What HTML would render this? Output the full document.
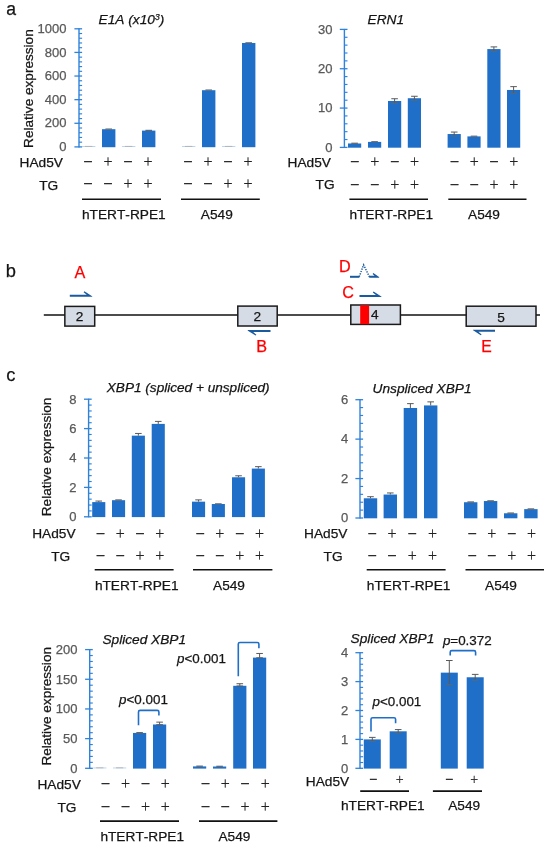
<!DOCTYPE html>
<html><head><meta charset="utf-8"><title>Figure</title>
<style>
html,body{margin:0;padding:0;background:#fff;}
svg{display:block;font-family:"Liberation Sans",Arial,sans-serif;font-kerning:none;}
</style></head>
<body>
<svg width="550" height="851" viewBox="0 0 550 851">
<rect width="550" height="851" fill="#ffffff"/>
<text x="6.30" y="15.30" font-size="17.6" fill="#151515" stroke="#151515" stroke-width="0.25" text-anchor="start" >a</text>
<text x="5.80" y="276.70" font-size="18.3" fill="#151515" stroke="#151515" stroke-width="0.25" text-anchor="start" >b</text>
<text x="6.20" y="381.20" font-size="18.3" fill="#151515" stroke="#151515" stroke-width="0.25" text-anchor="start" >c</text>
<line x1="79.00" y1="28.30" x2="79.00" y2="147.40" stroke="#2F82DA" stroke-width="1.4" />
<line x1="74.40" y1="146.90" x2="82.10" y2="146.90" stroke="#2F82DA" stroke-width="1.3" />
<text x="66.40" y="151.10" font-size="13" fill="#595959" stroke="#595959" stroke-width="0.25" text-anchor="end" >0</text>
<line x1="79.00" y1="142.18" x2="82.10" y2="142.18" stroke="#2F82DA" stroke-width="1.15" />
<line x1="79.00" y1="137.45" x2="82.10" y2="137.45" stroke="#2F82DA" stroke-width="1.15" />
<line x1="79.00" y1="132.73" x2="82.10" y2="132.73" stroke="#2F82DA" stroke-width="1.15" />
<line x1="79.00" y1="128.00" x2="82.10" y2="128.00" stroke="#2F82DA" stroke-width="1.15" />
<line x1="74.40" y1="123.28" x2="82.10" y2="123.28" stroke="#2F82DA" stroke-width="1.3" />
<text x="66.40" y="127.48" font-size="13" fill="#595959" stroke="#595959" stroke-width="0.25" text-anchor="end" >200</text>
<line x1="79.00" y1="118.56" x2="82.10" y2="118.56" stroke="#2F82DA" stroke-width="1.15" />
<line x1="79.00" y1="113.83" x2="82.10" y2="113.83" stroke="#2F82DA" stroke-width="1.15" />
<line x1="79.00" y1="109.11" x2="82.10" y2="109.11" stroke="#2F82DA" stroke-width="1.15" />
<line x1="79.00" y1="104.38" x2="82.10" y2="104.38" stroke="#2F82DA" stroke-width="1.15" />
<line x1="74.40" y1="99.66" x2="82.10" y2="99.66" stroke="#2F82DA" stroke-width="1.3" />
<text x="66.40" y="103.86" font-size="13" fill="#595959" stroke="#595959" stroke-width="0.25" text-anchor="end" >400</text>
<line x1="79.00" y1="94.94" x2="82.10" y2="94.94" stroke="#2F82DA" stroke-width="1.15" />
<line x1="79.00" y1="90.21" x2="82.10" y2="90.21" stroke="#2F82DA" stroke-width="1.15" />
<line x1="79.00" y1="85.49" x2="82.10" y2="85.49" stroke="#2F82DA" stroke-width="1.15" />
<line x1="79.00" y1="80.76" x2="82.10" y2="80.76" stroke="#2F82DA" stroke-width="1.15" />
<line x1="74.40" y1="76.04" x2="82.10" y2="76.04" stroke="#2F82DA" stroke-width="1.3" />
<text x="66.40" y="80.24" font-size="13" fill="#595959" stroke="#595959" stroke-width="0.25" text-anchor="end" >600</text>
<line x1="79.00" y1="71.32" x2="82.10" y2="71.32" stroke="#2F82DA" stroke-width="1.15" />
<line x1="79.00" y1="66.59" x2="82.10" y2="66.59" stroke="#2F82DA" stroke-width="1.15" />
<line x1="79.00" y1="61.87" x2="82.10" y2="61.87" stroke="#2F82DA" stroke-width="1.15" />
<line x1="79.00" y1="57.14" x2="82.10" y2="57.14" stroke="#2F82DA" stroke-width="1.15" />
<line x1="74.40" y1="52.42" x2="82.10" y2="52.42" stroke="#2F82DA" stroke-width="1.3" />
<text x="66.40" y="56.62" font-size="13" fill="#595959" stroke="#595959" stroke-width="0.25" text-anchor="end" >800</text>
<line x1="79.00" y1="47.70" x2="82.10" y2="47.70" stroke="#2F82DA" stroke-width="1.15" />
<line x1="79.00" y1="42.97" x2="82.10" y2="42.97" stroke="#2F82DA" stroke-width="1.15" />
<line x1="79.00" y1="38.25" x2="82.10" y2="38.25" stroke="#2F82DA" stroke-width="1.15" />
<line x1="79.00" y1="33.52" x2="82.10" y2="33.52" stroke="#2F82DA" stroke-width="1.15" />
<line x1="74.40" y1="28.80" x2="82.10" y2="28.80" stroke="#2F82DA" stroke-width="1.3" />
<text x="66.40" y="33.00" font-size="13" fill="#595959" stroke="#595959" stroke-width="0.25" text-anchor="end" >1000</text>
<rect x="82.00" y="146.10" width="13.40" height="0.90" fill="#B5D2F0" />
<line x1="85.00" y1="146.40" x2="92.40" y2="146.40" stroke="#a8a8a8" stroke-width="0.7" />
<rect x="102.00" y="129.19" width="13.40" height="18.02" fill="#1F6FC9" />
<line x1="105.40" y1="128.99" x2="112.00" y2="128.99" stroke="#666" stroke-width="1.04172" />
<rect x="122.00" y="146.10" width="13.40" height="0.90" fill="#B5D2F0" />
<line x1="125.00" y1="146.40" x2="132.40" y2="146.40" stroke="#a8a8a8" stroke-width="0.7" />
<rect x="142.00" y="130.60" width="13.40" height="16.60" fill="#1F6FC9" />
<line x1="145.40" y1="130.40" x2="152.00" y2="130.40" stroke="#666" stroke-width="1.2543" />
<rect x="182.00" y="146.10" width="13.40" height="0.90" fill="#B5D2F0" />
<line x1="185.00" y1="146.40" x2="192.40" y2="146.40" stroke="#a8a8a8" stroke-width="0.7" />
<rect x="202.00" y="90.21" width="13.40" height="56.99" fill="#1F6FC9" />
<line x1="205.40" y1="90.01" x2="212.00" y2="90.01" stroke="#666" stroke-width="1.1125800000000001" />
<rect x="222.00" y="146.10" width="13.40" height="0.90" fill="#B5D2F0" />
<line x1="225.00" y1="146.40" x2="232.40" y2="146.40" stroke="#a8a8a8" stroke-width="0.7" />
<rect x="242.00" y="42.97" width="13.40" height="104.23" fill="#1F6FC9" />
<line x1="245.40" y1="42.77" x2="252.00" y2="42.77" stroke="#666" stroke-width="1.1125800000000001" />
<text transform="translate(32.70,88.60) rotate(-90)" font-size="13.6" fill="#151515" stroke="#151515" stroke-width="0.25" text-anchor="middle">Relative expression</text>
<text x="98.6" y="24.0" font-size="13.7" fill="#151515" stroke="#151515" stroke-width="0.25" font-style="italic">E1A (x10<tspan font-size="8.5" dy="-4.5">3</tspan><tspan dy="4.5">)</tspan></text>
<text x="19.50" y="167.40" font-size="13.7" fill="#151515" stroke="#151515" stroke-width="0.25" text-anchor="start" >HAd5V</text>
<text x="39.20" y="189.80" font-size="13.7" fill="#151515" stroke="#151515" stroke-width="0.25" text-anchor="start" >TG</text>
<text x="87.90" y="167.20" font-size="16" fill="#222" stroke="#222" stroke-width="0.4" font-family="Liberation Serif" text-anchor="middle">−</text>
<text x="107.90" y="167.20" font-size="16" fill="#222" stroke="#222" stroke-width="0.15" font-family="Liberation Serif" text-anchor="middle">+</text>
<text x="127.90" y="167.20" font-size="16" fill="#222" stroke="#222" stroke-width="0.4" font-family="Liberation Serif" text-anchor="middle">−</text>
<text x="147.90" y="167.20" font-size="16" fill="#222" stroke="#222" stroke-width="0.15" font-family="Liberation Serif" text-anchor="middle">+</text>
<text x="187.90" y="167.20" font-size="16" fill="#222" stroke="#222" stroke-width="0.4" font-family="Liberation Serif" text-anchor="middle">−</text>
<text x="207.90" y="167.20" font-size="16" fill="#222" stroke="#222" stroke-width="0.15" font-family="Liberation Serif" text-anchor="middle">+</text>
<text x="227.90" y="167.20" font-size="16" fill="#222" stroke="#222" stroke-width="0.4" font-family="Liberation Serif" text-anchor="middle">−</text>
<text x="247.90" y="167.20" font-size="16" fill="#222" stroke="#222" stroke-width="0.15" font-family="Liberation Serif" text-anchor="middle">+</text>
<text x="87.90" y="189.30" font-size="16" fill="#222" stroke="#222" stroke-width="0.4" font-family="Liberation Serif" text-anchor="middle">−</text>
<text x="107.90" y="189.30" font-size="16" fill="#222" stroke="#222" stroke-width="0.4" font-family="Liberation Serif" text-anchor="middle">−</text>
<text x="127.90" y="189.30" font-size="16" fill="#222" stroke="#222" stroke-width="0.15" font-family="Liberation Serif" text-anchor="middle">+</text>
<text x="147.90" y="189.30" font-size="16" fill="#222" stroke="#222" stroke-width="0.15" font-family="Liberation Serif" text-anchor="middle">+</text>
<text x="187.90" y="189.30" font-size="16" fill="#222" stroke="#222" stroke-width="0.4" font-family="Liberation Serif" text-anchor="middle">−</text>
<text x="207.90" y="189.30" font-size="16" fill="#222" stroke="#222" stroke-width="0.4" font-family="Liberation Serif" text-anchor="middle">−</text>
<text x="227.90" y="189.30" font-size="16" fill="#222" stroke="#222" stroke-width="0.15" font-family="Liberation Serif" text-anchor="middle">+</text>
<text x="247.90" y="189.30" font-size="16" fill="#222" stroke="#222" stroke-width="0.15" font-family="Liberation Serif" text-anchor="middle">+</text>
<line x1="82.00" y1="199.20" x2="161.00" y2="199.20" stroke="#111" stroke-width="1.6" />
<line x1="181.00" y1="199.20" x2="259.80" y2="199.20" stroke="#111" stroke-width="1.6" />
<text x="82.00" y="219.40" font-size="13.7" fill="#151515" stroke="#151515" stroke-width="0.25" text-anchor="start" >hTERT-RPE1</text>
<text x="200.80" y="219.40" font-size="13.7" fill="#151515" stroke="#151515" stroke-width="0.25" text-anchor="start" >A549</text>
<line x1="344.40" y1="28.90" x2="344.40" y2="147.90" stroke="#2F82DA" stroke-width="1.4" />
<line x1="339.80" y1="147.40" x2="347.50" y2="147.40" stroke="#2F82DA" stroke-width="1.3" />
<text x="332.40" y="151.75" font-size="13" fill="#595959" stroke="#595959" stroke-width="0.25" text-anchor="end" >0</text>
<line x1="344.40" y1="139.53" x2="347.50" y2="139.53" stroke="#2F82DA" stroke-width="1.15" />
<line x1="344.40" y1="131.67" x2="347.50" y2="131.67" stroke="#2F82DA" stroke-width="1.15" />
<line x1="344.40" y1="123.80" x2="347.50" y2="123.80" stroke="#2F82DA" stroke-width="1.15" />
<line x1="344.40" y1="115.93" x2="347.50" y2="115.93" stroke="#2F82DA" stroke-width="1.15" />
<line x1="339.80" y1="108.07" x2="347.50" y2="108.07" stroke="#2F82DA" stroke-width="1.3" />
<text x="332.40" y="112.42" font-size="13" fill="#595959" stroke="#595959" stroke-width="0.25" text-anchor="end" >10</text>
<line x1="344.40" y1="100.20" x2="347.50" y2="100.20" stroke="#2F82DA" stroke-width="1.15" />
<line x1="344.40" y1="92.33" x2="347.50" y2="92.33" stroke="#2F82DA" stroke-width="1.15" />
<line x1="344.40" y1="84.47" x2="347.50" y2="84.47" stroke="#2F82DA" stroke-width="1.15" />
<line x1="344.40" y1="76.60" x2="347.50" y2="76.60" stroke="#2F82DA" stroke-width="1.15" />
<line x1="339.80" y1="68.73" x2="347.50" y2="68.73" stroke="#2F82DA" stroke-width="1.3" />
<text x="332.40" y="73.08" font-size="13" fill="#595959" stroke="#595959" stroke-width="0.25" text-anchor="end" >20</text>
<line x1="344.40" y1="60.87" x2="347.50" y2="60.87" stroke="#2F82DA" stroke-width="1.15" />
<line x1="344.40" y1="53.00" x2="347.50" y2="53.00" stroke="#2F82DA" stroke-width="1.15" />
<line x1="344.40" y1="45.13" x2="347.50" y2="45.13" stroke="#2F82DA" stroke-width="1.15" />
<line x1="344.40" y1="37.27" x2="347.50" y2="37.27" stroke="#2F82DA" stroke-width="1.15" />
<line x1="339.80" y1="29.40" x2="347.50" y2="29.40" stroke="#2F82DA" stroke-width="1.3" />
<text x="332.40" y="33.75" font-size="13" fill="#595959" stroke="#595959" stroke-width="0.25" text-anchor="end" >30</text>
<rect x="348.00" y="143.47" width="13.20" height="4.23" fill="#1F6FC9" />
<line x1="351.30" y1="143.27" x2="357.90" y2="143.27" stroke="#666" stroke-width="1.254" />
<rect x="368.00" y="141.89" width="13.20" height="5.81" fill="#1F6FC9" />
<line x1="371.30" y1="141.69" x2="377.90" y2="141.69" stroke="#666" stroke-width="1.1832" />
<rect x="388.00" y="100.99" width="13.20" height="46.71" fill="#1F6FC9" />
<line x1="394.60" y1="98.74" x2="394.60" y2="103.23" stroke="#595959" stroke-width="1.0" />
<line x1="391.30" y1="98.74" x2="397.90" y2="98.74" stroke="#595959" stroke-width="1.0" />
<line x1="391.30" y1="103.23" x2="397.90" y2="103.23" stroke="#5f6870" stroke-width="1.0" />
<rect x="407.80" y="98.23" width="13.20" height="49.47" fill="#1F6FC9" />
<line x1="414.40" y1="96.27" x2="414.40" y2="100.20" stroke="#595959" stroke-width="1.0" />
<line x1="411.10" y1="96.27" x2="417.70" y2="96.27" stroke="#595959" stroke-width="1.0" />
<line x1="411.10" y1="100.20" x2="417.70" y2="100.20" stroke="#5f6870" stroke-width="1.0" />
<rect x="447.60" y="134.03" width="13.20" height="13.67" fill="#1F6FC9" />
<line x1="454.20" y1="132.06" x2="454.20" y2="135.99" stroke="#595959" stroke-width="1.0" />
<line x1="450.90" y1="132.06" x2="457.50" y2="132.06" stroke="#595959" stroke-width="1.0" />
<line x1="450.90" y1="135.99" x2="457.50" y2="135.99" stroke="#5f6870" stroke-width="1.0" />
<rect x="467.40" y="136.39" width="13.20" height="11.31" fill="#1F6FC9" />
<line x1="470.70" y1="136.19" x2="477.30" y2="136.19" stroke="#666" stroke-width="1.1832" />
<rect x="487.30" y="49.07" width="13.20" height="98.63" fill="#1F6FC9" />
<line x1="493.90" y1="46.90" x2="493.90" y2="51.23" stroke="#595959" stroke-width="1.0" />
<line x1="490.60" y1="46.90" x2="497.20" y2="46.90" stroke="#595959" stroke-width="1.0" />
<line x1="490.60" y1="51.23" x2="497.20" y2="51.23" stroke="#5f6870" stroke-width="1.0" />
<rect x="507.00" y="89.97" width="13.20" height="57.73" fill="#1F6FC9" />
<line x1="513.60" y1="86.63" x2="513.60" y2="93.32" stroke="#595959" stroke-width="1.0" />
<line x1="510.30" y1="86.63" x2="516.90" y2="86.63" stroke="#595959" stroke-width="1.0" />
<line x1="510.30" y1="93.32" x2="516.90" y2="93.32" stroke="#5f6870" stroke-width="1.0" />
<text x="367.60" y="23.70" font-size="13.7" fill="#151515" stroke="#151515" stroke-width="0.25" text-anchor="start" font-style="italic" >ERN1</text>
<text x="287.60" y="167.30" font-size="13.7" fill="#151515" stroke="#151515" stroke-width="0.25" text-anchor="start" >HAd5V</text>
<text x="315.60" y="189.00" font-size="13.7" fill="#151515" stroke="#151515" stroke-width="0.25" text-anchor="start" >TG</text>
<text x="354.80" y="167.00" font-size="16" fill="#222" stroke="#222" stroke-width="0.4" font-family="Liberation Serif" text-anchor="middle">−</text>
<text x="374.80" y="167.00" font-size="16" fill="#222" stroke="#222" stroke-width="0.15" font-family="Liberation Serif" text-anchor="middle">+</text>
<text x="394.80" y="167.00" font-size="16" fill="#222" stroke="#222" stroke-width="0.4" font-family="Liberation Serif" text-anchor="middle">−</text>
<text x="414.60" y="167.00" font-size="16" fill="#222" stroke="#222" stroke-width="0.15" font-family="Liberation Serif" text-anchor="middle">+</text>
<text x="454.40" y="167.00" font-size="16" fill="#222" stroke="#222" stroke-width="0.4" font-family="Liberation Serif" text-anchor="middle">−</text>
<text x="474.20" y="167.00" font-size="16" fill="#222" stroke="#222" stroke-width="0.15" font-family="Liberation Serif" text-anchor="middle">+</text>
<text x="494.10" y="167.00" font-size="16" fill="#222" stroke="#222" stroke-width="0.4" font-family="Liberation Serif" text-anchor="middle">−</text>
<text x="513.80" y="167.00" font-size="16" fill="#222" stroke="#222" stroke-width="0.15" font-family="Liberation Serif" text-anchor="middle">+</text>
<text x="354.80" y="189.50" font-size="16" fill="#222" stroke="#222" stroke-width="0.4" font-family="Liberation Serif" text-anchor="middle">−</text>
<text x="374.80" y="189.50" font-size="16" fill="#222" stroke="#222" stroke-width="0.4" font-family="Liberation Serif" text-anchor="middle">−</text>
<text x="394.80" y="189.50" font-size="16" fill="#222" stroke="#222" stroke-width="0.15" font-family="Liberation Serif" text-anchor="middle">+</text>
<text x="414.60" y="189.50" font-size="16" fill="#222" stroke="#222" stroke-width="0.15" font-family="Liberation Serif" text-anchor="middle">+</text>
<text x="454.40" y="189.50" font-size="16" fill="#222" stroke="#222" stroke-width="0.4" font-family="Liberation Serif" text-anchor="middle">−</text>
<text x="474.20" y="189.50" font-size="16" fill="#222" stroke="#222" stroke-width="0.4" font-family="Liberation Serif" text-anchor="middle">−</text>
<text x="494.10" y="189.50" font-size="16" fill="#222" stroke="#222" stroke-width="0.15" font-family="Liberation Serif" text-anchor="middle">+</text>
<text x="513.80" y="189.50" font-size="16" fill="#222" stroke="#222" stroke-width="0.15" font-family="Liberation Serif" text-anchor="middle">+</text>
<line x1="349.40" y1="199.20" x2="428.00" y2="199.20" stroke="#111" stroke-width="1.6" />
<line x1="448.30" y1="199.20" x2="526.50" y2="199.20" stroke="#111" stroke-width="1.6" />
<text x="349.40" y="219.40" font-size="13.7" fill="#151515" stroke="#151515" stroke-width="0.25" text-anchor="start" >hTERT-RPE1</text>
<text x="468.00" y="219.40" font-size="13.7" fill="#151515" stroke="#151515" stroke-width="0.25" text-anchor="start" >A549</text>
<line x1="43.80" y1="314.90" x2="540.00" y2="314.90" stroke="#111" stroke-width="1.5" />
<rect x="64.85" y="306.40" width="29.85" height="19.70" fill="#D6DCE5" stroke="#1a1a1a" stroke-width="1.5"/>
<text x="79.50" y="321.30" font-size="13.7" fill="#151515" stroke="#151515" stroke-width="0.25" text-anchor="middle" >2</text>
<rect x="237.80" y="306.10" width="39.40" height="19.90" fill="#D6DCE5" stroke="#1a1a1a" stroke-width="1.5"/>
<text x="257.20" y="321.20" font-size="13.7" fill="#151515" stroke="#151515" stroke-width="0.25" text-anchor="middle" >2</text>
<rect x="350.80" y="305.00" width="49.60" height="19.40" fill="#D6DCE5" stroke="#1a1a1a" stroke-width="1.5"/>
<text x="374.70" y="319.30" font-size="13.7" fill="#151515" stroke="#151515" stroke-width="0.25" text-anchor="middle" >4</text>
<rect x="360.20" y="305.30" width="8.90" height="18.90" fill="#FF0000" />
<rect x="466.20" y="306.20" width="69.80" height="20.00" fill="#D6DCE5" stroke="#1a1a1a" stroke-width="1.5"/>
<text x="501.00" y="321.50" font-size="13.7" fill="#151515" stroke="#151515" stroke-width="0.25" text-anchor="middle" >5</text>
<path d="M69.80,294.80 H86.80 L83.60,292.20 L84.40,291.30 L92.50,296.50 L91.90,296.80 H69.80 Z" fill="#1A5A9E"/>
<path d="M270.50,332.10 H253.20 L256.40,334.70 L255.60,335.60 L247.50,330.40 L248.10,330.10 H270.50 Z" fill="#1A5A9E"/>
<path d="M359.50,295.10 H376.00 L372.80,292.50 L373.60,291.60 L381.70,296.80 L381.10,297.10 H359.50 Z" fill="#1A5A9E"/>
<path d="M495.00,331.80 H478.40 L481.60,334.40 L480.80,335.30 L472.70,330.10 L473.30,329.80 H495.00 Z" fill="#1A5A9E"/>
<path d="M350,275.8 H359.4 V277.8 H350 Z" fill="#1A5A9E"/>
<path d="M359.2,276.8 L363.6,264.8 L369.4,276.8" fill="none" stroke="#1A5A9E" stroke-width="1.5" stroke-dasharray="1.3,1.2"/>
<path d="M369.2,275.8 H374.6 L372.6,273.9 L373.4,273.0 L379.4,277.3 L378.8,277.8 H369.2 Z" fill="#1A5A9E"/>
<text x="79.90" y="277.50" font-size="16.2" fill="#FF0000" stroke="#FF0000" stroke-width="0.25" text-anchor="middle" >A</text>
<text x="261.60" y="352.40" font-size="16.2" fill="#FF0000" stroke="#FF0000" stroke-width="0.25" text-anchor="middle" >B</text>
<text x="348.20" y="298.30" font-size="16.2" fill="#FF0000" stroke="#FF0000" stroke-width="0.25" text-anchor="middle" >C</text>
<text x="344.80" y="271.50" font-size="16.2" fill="#FF0000" stroke="#FF0000" stroke-width="0.25" text-anchor="middle" >D</text>
<text x="486.60" y="352.00" font-size="15.7" fill="#FF0000" stroke="#FF0000" stroke-width="0.25" text-anchor="middle" >E</text>
<line x1="88.60" y1="398.70" x2="88.60" y2="517.30" stroke="#2F82DA" stroke-width="1.4" />
<line x1="84.00" y1="516.80" x2="91.70" y2="516.80" stroke="#2F82DA" stroke-width="1.3" />
<text x="76.40" y="521.15" font-size="13" fill="#595959" stroke="#595959" stroke-width="0.25" text-anchor="end" >0</text>
<line x1="88.60" y1="510.92" x2="91.70" y2="510.92" stroke="#2F82DA" stroke-width="1.15" />
<line x1="88.60" y1="505.04" x2="91.70" y2="505.04" stroke="#2F82DA" stroke-width="1.15" />
<line x1="88.60" y1="499.16" x2="91.70" y2="499.16" stroke="#2F82DA" stroke-width="1.15" />
<line x1="88.60" y1="493.28" x2="91.70" y2="493.28" stroke="#2F82DA" stroke-width="1.15" />
<line x1="84.00" y1="487.40" x2="91.70" y2="487.40" stroke="#2F82DA" stroke-width="1.3" />
<text x="76.40" y="491.75" font-size="13" fill="#595959" stroke="#595959" stroke-width="0.25" text-anchor="end" >2</text>
<line x1="88.60" y1="481.52" x2="91.70" y2="481.52" stroke="#2F82DA" stroke-width="1.15" />
<line x1="88.60" y1="475.64" x2="91.70" y2="475.64" stroke="#2F82DA" stroke-width="1.15" />
<line x1="88.60" y1="469.76" x2="91.70" y2="469.76" stroke="#2F82DA" stroke-width="1.15" />
<line x1="88.60" y1="463.88" x2="91.70" y2="463.88" stroke="#2F82DA" stroke-width="1.15" />
<line x1="84.00" y1="458.00" x2="91.70" y2="458.00" stroke="#2F82DA" stroke-width="1.3" />
<text x="76.40" y="462.35" font-size="13" fill="#595959" stroke="#595959" stroke-width="0.25" text-anchor="end" >4</text>
<line x1="88.60" y1="452.12" x2="91.70" y2="452.12" stroke="#2F82DA" stroke-width="1.15" />
<line x1="88.60" y1="446.24" x2="91.70" y2="446.24" stroke="#2F82DA" stroke-width="1.15" />
<line x1="88.60" y1="440.36" x2="91.70" y2="440.36" stroke="#2F82DA" stroke-width="1.15" />
<line x1="88.60" y1="434.48" x2="91.70" y2="434.48" stroke="#2F82DA" stroke-width="1.15" />
<line x1="84.00" y1="428.60" x2="91.70" y2="428.60" stroke="#2F82DA" stroke-width="1.3" />
<text x="76.40" y="432.95" font-size="13" fill="#595959" stroke="#595959" stroke-width="0.25" text-anchor="end" >6</text>
<line x1="88.60" y1="422.72" x2="91.70" y2="422.72" stroke="#2F82DA" stroke-width="1.15" />
<line x1="88.60" y1="416.84" x2="91.70" y2="416.84" stroke="#2F82DA" stroke-width="1.15" />
<line x1="88.60" y1="410.96" x2="91.70" y2="410.96" stroke="#2F82DA" stroke-width="1.15" />
<line x1="88.60" y1="405.08" x2="91.70" y2="405.08" stroke="#2F82DA" stroke-width="1.15" />
<line x1="84.00" y1="399.20" x2="91.70" y2="399.20" stroke="#2F82DA" stroke-width="1.3" />
<text x="76.40" y="403.55" font-size="13" fill="#595959" stroke="#595959" stroke-width="0.25" text-anchor="end" >8</text>
<rect x="92.20" y="502.10" width="13.10" height="15.00" fill="#1F6FC9" />
<line x1="98.75" y1="501.07" x2="98.75" y2="502.10" stroke="#595959" stroke-width="1.0" />
<line x1="95.45" y1="501.07" x2="102.05" y2="501.07" stroke="#595959" stroke-width="1.0" />
<rect x="112.00" y="500.19" width="13.10" height="16.91" fill="#1F6FC9" />
<line x1="115.25" y1="499.99" x2="121.85" y2="499.99" stroke="#666" stroke-width="1.341" />
<rect x="131.80" y="435.66" width="13.10" height="81.44" fill="#1F6FC9" />
<line x1="138.35" y1="433.45" x2="138.35" y2="435.66" stroke="#595959" stroke-width="1.0" />
<line x1="135.05" y1="433.45" x2="141.65" y2="433.45" stroke="#595959" stroke-width="1.0" />
<rect x="151.70" y="423.90" width="13.10" height="93.20" fill="#1F6FC9" />
<line x1="158.25" y1="421.40" x2="158.25" y2="423.90" stroke="#595959" stroke-width="1.0" />
<line x1="154.95" y1="421.40" x2="161.55" y2="421.40" stroke="#595959" stroke-width="1.0" />
<rect x="192.00" y="501.66" width="13.10" height="15.44" fill="#1F6FC9" />
<line x1="198.55" y1="499.89" x2="198.55" y2="501.66" stroke="#595959" stroke-width="1.0" />
<line x1="195.25" y1="499.89" x2="201.85" y2="499.89" stroke="#595959" stroke-width="1.0" />
<rect x="211.80" y="504.01" width="13.10" height="13.09" fill="#1F6FC9" />
<line x1="215.05" y1="503.81" x2="221.65" y2="503.81" stroke="#666" stroke-width="1.1645999999999999" />
<rect x="232.00" y="477.26" width="13.10" height="39.84" fill="#1F6FC9" />
<line x1="238.55" y1="475.79" x2="238.55" y2="477.26" stroke="#595959" stroke-width="1.0" />
<line x1="235.25" y1="475.79" x2="241.85" y2="475.79" stroke="#595959" stroke-width="1.0" />
<rect x="251.80" y="468.58" width="13.10" height="48.52" fill="#1F6FC9" />
<line x1="258.35" y1="466.67" x2="258.35" y2="468.58" stroke="#595959" stroke-width="1.0" />
<line x1="255.05" y1="466.67" x2="261.65" y2="466.67" stroke="#595959" stroke-width="1.0" />
<text transform="translate(50.60,456.90) rotate(-90)" font-size="13.6" fill="#151515" stroke="#151515" stroke-width="0.25" text-anchor="middle">Relative expression</text>
<text x="106.80" y="392.40" font-size="13.6" fill="#151515" stroke="#151515" stroke-width="0.25" text-anchor="start" font-style="italic" >XBP1 (spliced + unspliced)</text>
<text x="32.20" y="538.00" font-size="13.7" fill="#151515" stroke="#151515" stroke-width="0.25" text-anchor="start" >HAd5V</text>
<text x="51.20" y="560.70" font-size="13.7" fill="#151515" stroke="#151515" stroke-width="0.25" text-anchor="start" >TG</text>
<text x="100.50" y="538.70" font-size="16" fill="#222" stroke="#222" stroke-width="0.4" font-family="Liberation Serif" text-anchor="middle">−</text>
<text x="120.20" y="538.70" font-size="16" fill="#222" stroke="#222" stroke-width="0.15" font-family="Liberation Serif" text-anchor="middle">+</text>
<text x="140.00" y="538.70" font-size="16" fill="#222" stroke="#222" stroke-width="0.4" font-family="Liberation Serif" text-anchor="middle">−</text>
<text x="159.80" y="538.70" font-size="16" fill="#222" stroke="#222" stroke-width="0.15" font-family="Liberation Serif" text-anchor="middle">+</text>
<text x="200.30" y="538.70" font-size="16" fill="#222" stroke="#222" stroke-width="0.4" font-family="Liberation Serif" text-anchor="middle">−</text>
<text x="219.80" y="538.70" font-size="16" fill="#222" stroke="#222" stroke-width="0.15" font-family="Liberation Serif" text-anchor="middle">+</text>
<text x="239.70" y="538.70" font-size="16" fill="#222" stroke="#222" stroke-width="0.4" font-family="Liberation Serif" text-anchor="middle">−</text>
<text x="259.60" y="538.70" font-size="16" fill="#222" stroke="#222" stroke-width="0.15" font-family="Liberation Serif" text-anchor="middle">+</text>
<text x="100.50" y="560.50" font-size="16" fill="#222" stroke="#222" stroke-width="0.4" font-family="Liberation Serif" text-anchor="middle">−</text>
<text x="120.20" y="560.50" font-size="16" fill="#222" stroke="#222" stroke-width="0.4" font-family="Liberation Serif" text-anchor="middle">−</text>
<text x="140.00" y="560.50" font-size="16" fill="#222" stroke="#222" stroke-width="0.15" font-family="Liberation Serif" text-anchor="middle">+</text>
<text x="159.80" y="560.50" font-size="16" fill="#222" stroke="#222" stroke-width="0.15" font-family="Liberation Serif" text-anchor="middle">+</text>
<text x="200.30" y="560.50" font-size="16" fill="#222" stroke="#222" stroke-width="0.4" font-family="Liberation Serif" text-anchor="middle">−</text>
<text x="219.80" y="560.50" font-size="16" fill="#222" stroke="#222" stroke-width="0.4" font-family="Liberation Serif" text-anchor="middle">−</text>
<text x="239.70" y="560.50" font-size="16" fill="#222" stroke="#222" stroke-width="0.15" font-family="Liberation Serif" text-anchor="middle">+</text>
<text x="259.60" y="560.50" font-size="16" fill="#222" stroke="#222" stroke-width="0.15" font-family="Liberation Serif" text-anchor="middle">+</text>
<line x1="94.70" y1="569.80" x2="173.60" y2="569.80" stroke="#111" stroke-width="1.6" />
<line x1="193.00" y1="569.80" x2="272.40" y2="569.80" stroke="#111" stroke-width="1.6" />
<text x="94.90" y="590.10" font-size="13.7" fill="#151515" stroke="#151515" stroke-width="0.25" text-anchor="start" >hTERT-RPE1</text>
<text x="213.00" y="590.10" font-size="13.7" fill="#151515" stroke="#151515" stroke-width="0.25" text-anchor="start" >A549</text>
<line x1="360.00" y1="399.20" x2="360.00" y2="518.50" stroke="#2F82DA" stroke-width="1.4" />
<line x1="355.40" y1="518.00" x2="363.10" y2="518.00" stroke="#2F82DA" stroke-width="1.3" />
<text x="348.20" y="522.35" font-size="13" fill="#595959" stroke="#595959" stroke-width="0.25" text-anchor="end" >0</text>
<line x1="360.00" y1="510.11" x2="363.10" y2="510.11" stroke="#2F82DA" stroke-width="1.15" />
<line x1="360.00" y1="502.23" x2="363.10" y2="502.23" stroke="#2F82DA" stroke-width="1.15" />
<line x1="360.00" y1="494.34" x2="363.10" y2="494.34" stroke="#2F82DA" stroke-width="1.15" />
<line x1="360.00" y1="486.45" x2="363.10" y2="486.45" stroke="#2F82DA" stroke-width="1.15" />
<line x1="355.40" y1="478.57" x2="363.10" y2="478.57" stroke="#2F82DA" stroke-width="1.3" />
<text x="348.20" y="482.92" font-size="13" fill="#595959" stroke="#595959" stroke-width="0.25" text-anchor="end" >2</text>
<line x1="360.00" y1="470.68" x2="363.10" y2="470.68" stroke="#2F82DA" stroke-width="1.15" />
<line x1="360.00" y1="462.79" x2="363.10" y2="462.79" stroke="#2F82DA" stroke-width="1.15" />
<line x1="360.00" y1="454.91" x2="363.10" y2="454.91" stroke="#2F82DA" stroke-width="1.15" />
<line x1="360.00" y1="447.02" x2="363.10" y2="447.02" stroke="#2F82DA" stroke-width="1.15" />
<line x1="355.40" y1="439.13" x2="363.10" y2="439.13" stroke="#2F82DA" stroke-width="1.3" />
<text x="348.20" y="443.48" font-size="13" fill="#595959" stroke="#595959" stroke-width="0.25" text-anchor="end" >4</text>
<line x1="360.00" y1="431.25" x2="363.10" y2="431.25" stroke="#2F82DA" stroke-width="1.15" />
<line x1="360.00" y1="423.36" x2="363.10" y2="423.36" stroke="#2F82DA" stroke-width="1.15" />
<line x1="360.00" y1="415.47" x2="363.10" y2="415.47" stroke="#2F82DA" stroke-width="1.15" />
<line x1="360.00" y1="407.59" x2="363.10" y2="407.59" stroke="#2F82DA" stroke-width="1.15" />
<line x1="355.40" y1="399.70" x2="363.10" y2="399.70" stroke="#2F82DA" stroke-width="1.3" />
<text x="348.20" y="404.05" font-size="13" fill="#595959" stroke="#595959" stroke-width="0.25" text-anchor="end" >6</text>
<rect x="363.80" y="498.28" width="13.40" height="20.02" fill="#1F6FC9" />
<line x1="370.50" y1="496.71" x2="370.50" y2="498.28" stroke="#595959" stroke-width="1.0" />
<line x1="367.20" y1="496.71" x2="373.80" y2="496.71" stroke="#595959" stroke-width="1.0" />
<rect x="383.60" y="494.54" width="13.40" height="23.76" fill="#1F6FC9" />
<line x1="390.30" y1="492.96" x2="390.30" y2="494.54" stroke="#595959" stroke-width="1.0" />
<line x1="387.00" y1="492.96" x2="393.60" y2="492.96" stroke="#595959" stroke-width="1.0" />
<rect x="403.70" y="407.98" width="13.40" height="110.32" fill="#1F6FC9" />
<line x1="410.40" y1="403.64" x2="410.40" y2="407.98" stroke="#595959" stroke-width="1.0" />
<line x1="407.10" y1="403.64" x2="413.70" y2="403.64" stroke="#595959" stroke-width="1.0" />
<rect x="424.00" y="405.42" width="13.40" height="112.88" fill="#1F6FC9" />
<line x1="430.70" y1="401.87" x2="430.70" y2="405.42" stroke="#595959" stroke-width="1.0" />
<line x1="427.40" y1="401.87" x2="434.00" y2="401.87" stroke="#595959" stroke-width="1.0" />
<rect x="464.00" y="502.23" width="13.40" height="16.07" fill="#1F6FC9" />
<line x1="467.40" y1="502.03" x2="474.00" y2="502.03" stroke="#666" stroke-width="1.3732" />
<rect x="483.90" y="501.04" width="13.40" height="17.26" fill="#1F6FC9" />
<line x1="487.30" y1="500.84" x2="493.90" y2="500.84" stroke="#666" stroke-width="1.2549000000000001" />
<rect x="504.00" y="513.27" width="13.40" height="5.03" fill="#1F6FC9" />
<line x1="507.40" y1="513.07" x2="514.00" y2="513.07" stroke="#666" stroke-width="1.2549000000000001" />
<rect x="524.20" y="509.13" width="13.40" height="9.17" fill="#1F6FC9" />
<line x1="527.60" y1="508.93" x2="534.20" y2="508.93" stroke="#666" stroke-width="1.2549000000000001" />
<text x="372.60" y="392.70" font-size="13.7" fill="#151515" stroke="#151515" stroke-width="0.25" text-anchor="start" font-style="italic" >Unspliced XBP1</text>
<text x="304.00" y="538.00" font-size="13.7" fill="#151515" stroke="#151515" stroke-width="0.25" text-anchor="start" >HAd5V</text>
<text x="323.60" y="560.70" font-size="13.7" fill="#151515" stroke="#151515" stroke-width="0.25" text-anchor="start" >TG</text>
<text x="372.30" y="538.70" font-size="16" fill="#222" stroke="#222" stroke-width="0.4" font-family="Liberation Serif" text-anchor="middle">−</text>
<text x="392.10" y="538.70" font-size="16" fill="#222" stroke="#222" stroke-width="0.15" font-family="Liberation Serif" text-anchor="middle">+</text>
<text x="412.20" y="538.70" font-size="16" fill="#222" stroke="#222" stroke-width="0.4" font-family="Liberation Serif" text-anchor="middle">−</text>
<text x="432.40" y="538.70" font-size="16" fill="#222" stroke="#222" stroke-width="0.15" font-family="Liberation Serif" text-anchor="middle">+</text>
<text x="472.30" y="538.70" font-size="16" fill="#222" stroke="#222" stroke-width="0.4" font-family="Liberation Serif" text-anchor="middle">−</text>
<text x="491.80" y="538.70" font-size="16" fill="#222" stroke="#222" stroke-width="0.15" font-family="Liberation Serif" text-anchor="middle">+</text>
<text x="511.80" y="538.70" font-size="16" fill="#222" stroke="#222" stroke-width="0.4" font-family="Liberation Serif" text-anchor="middle">−</text>
<text x="531.60" y="538.70" font-size="16" fill="#222" stroke="#222" stroke-width="0.15" font-family="Liberation Serif" text-anchor="middle">+</text>
<text x="372.30" y="560.50" font-size="16" fill="#222" stroke="#222" stroke-width="0.4" font-family="Liberation Serif" text-anchor="middle">−</text>
<text x="392.10" y="560.50" font-size="16" fill="#222" stroke="#222" stroke-width="0.4" font-family="Liberation Serif" text-anchor="middle">−</text>
<text x="412.20" y="560.50" font-size="16" fill="#222" stroke="#222" stroke-width="0.15" font-family="Liberation Serif" text-anchor="middle">+</text>
<text x="432.40" y="560.50" font-size="16" fill="#222" stroke="#222" stroke-width="0.15" font-family="Liberation Serif" text-anchor="middle">+</text>
<text x="472.30" y="560.50" font-size="16" fill="#222" stroke="#222" stroke-width="0.4" font-family="Liberation Serif" text-anchor="middle">−</text>
<text x="491.80" y="560.50" font-size="16" fill="#222" stroke="#222" stroke-width="0.4" font-family="Liberation Serif" text-anchor="middle">−</text>
<text x="511.80" y="560.50" font-size="16" fill="#222" stroke="#222" stroke-width="0.15" font-family="Liberation Serif" text-anchor="middle">+</text>
<text x="531.60" y="560.50" font-size="16" fill="#222" stroke="#222" stroke-width="0.15" font-family="Liberation Serif" text-anchor="middle">+</text>
<line x1="366.70" y1="569.80" x2="445.60" y2="569.80" stroke="#111" stroke-width="1.6" />
<line x1="465.50" y1="569.80" x2="544.00" y2="569.80" stroke="#111" stroke-width="1.6" />
<text x="366.80" y="590.10" font-size="13.7" fill="#151515" stroke="#151515" stroke-width="0.25" text-anchor="start" >hTERT-RPE1</text>
<text x="485.00" y="590.10" font-size="13.7" fill="#151515" stroke="#151515" stroke-width="0.25" text-anchor="start" >A549</text>
<line x1="89.70" y1="649.10" x2="89.70" y2="768.80" stroke="#2F82DA" stroke-width="1.4" />
<line x1="85.10" y1="768.30" x2="92.80" y2="768.30" stroke="#2F82DA" stroke-width="1.3" />
<text x="77.40" y="772.65" font-size="13" fill="#595959" stroke="#595959" stroke-width="0.25" text-anchor="end" >0</text>
<line x1="89.70" y1="762.37" x2="92.80" y2="762.37" stroke="#2F82DA" stroke-width="1.15" />
<line x1="89.70" y1="756.43" x2="92.80" y2="756.43" stroke="#2F82DA" stroke-width="1.15" />
<line x1="89.70" y1="750.50" x2="92.80" y2="750.50" stroke="#2F82DA" stroke-width="1.15" />
<line x1="89.70" y1="744.56" x2="92.80" y2="744.56" stroke="#2F82DA" stroke-width="1.15" />
<line x1="85.10" y1="738.62" x2="92.80" y2="738.62" stroke="#2F82DA" stroke-width="1.3" />
<text x="77.40" y="742.98" font-size="13" fill="#595959" stroke="#595959" stroke-width="0.25" text-anchor="end" >50</text>
<line x1="89.70" y1="732.69" x2="92.80" y2="732.69" stroke="#2F82DA" stroke-width="1.15" />
<line x1="89.70" y1="726.75" x2="92.80" y2="726.75" stroke="#2F82DA" stroke-width="1.15" />
<line x1="89.70" y1="720.82" x2="92.80" y2="720.82" stroke="#2F82DA" stroke-width="1.15" />
<line x1="89.70" y1="714.88" x2="92.80" y2="714.88" stroke="#2F82DA" stroke-width="1.15" />
<line x1="85.10" y1="708.95" x2="92.80" y2="708.95" stroke="#2F82DA" stroke-width="1.3" />
<text x="77.40" y="713.30" font-size="13" fill="#595959" stroke="#595959" stroke-width="0.25" text-anchor="end" >100</text>
<line x1="89.70" y1="703.02" x2="92.80" y2="703.02" stroke="#2F82DA" stroke-width="1.15" />
<line x1="89.70" y1="697.08" x2="92.80" y2="697.08" stroke="#2F82DA" stroke-width="1.15" />
<line x1="89.70" y1="691.15" x2="92.80" y2="691.15" stroke="#2F82DA" stroke-width="1.15" />
<line x1="89.70" y1="685.21" x2="92.80" y2="685.21" stroke="#2F82DA" stroke-width="1.15" />
<line x1="85.10" y1="679.27" x2="92.80" y2="679.27" stroke="#2F82DA" stroke-width="1.3" />
<text x="77.40" y="683.62" font-size="13" fill="#595959" stroke="#595959" stroke-width="0.25" text-anchor="end" >150</text>
<line x1="89.70" y1="673.34" x2="92.80" y2="673.34" stroke="#2F82DA" stroke-width="1.15" />
<line x1="89.70" y1="667.40" x2="92.80" y2="667.40" stroke="#2F82DA" stroke-width="1.15" />
<line x1="89.70" y1="661.47" x2="92.80" y2="661.47" stroke="#2F82DA" stroke-width="1.15" />
<line x1="89.70" y1="655.53" x2="92.80" y2="655.53" stroke="#2F82DA" stroke-width="1.15" />
<line x1="85.10" y1="649.60" x2="92.80" y2="649.60" stroke="#2F82DA" stroke-width="1.3" />
<text x="77.40" y="653.95" font-size="13" fill="#595959" stroke="#595959" stroke-width="0.25" text-anchor="end" >200</text>
<rect x="93.20" y="767.50" width="13.20" height="0.90" fill="#B5D2F0" />
<line x1="96.20" y1="767.80" x2="103.40" y2="767.80" stroke="#a8a8a8" stroke-width="0.7" />
<rect x="113.00" y="767.50" width="13.20" height="0.90" fill="#B5D2F0" />
<line x1="116.00" y1="767.80" x2="123.20" y2="767.80" stroke="#a8a8a8" stroke-width="0.7" />
<rect x="133.00" y="732.93" width="13.20" height="35.67" fill="#1F6FC9" />
<line x1="136.30" y1="732.73" x2="142.90" y2="732.73" stroke="#666" stroke-width="1.4341499999999998" />
<rect x="153.00" y="724.50" width="13.20" height="44.10" fill="#1F6FC9" />
<line x1="159.60" y1="722.13" x2="159.60" y2="724.50" stroke="#595959" stroke-width="1.0" />
<line x1="156.30" y1="722.13" x2="162.90" y2="722.13" stroke="#595959" stroke-width="1.0" />
<line x1="156.30" y1="724.70" x2="162.90" y2="724.70" stroke="#595959" stroke-width="1.0" />
<rect x="193.00" y="766.40" width="13.20" height="2.20" fill="#1F6FC9" />
<line x1="196.30" y1="766.20" x2="202.90" y2="766.20" stroke="#666" stroke-width="1.3273199999999998" />
<rect x="213.00" y="766.52" width="13.20" height="2.08" fill="#1F6FC9" />
<line x1="216.30" y1="766.32" x2="222.90" y2="766.32" stroke="#666" stroke-width="1.2560999999999998" />
<rect x="233.20" y="685.80" width="13.20" height="82.80" fill="#1F6FC9" />
<line x1="239.80" y1="683.73" x2="239.80" y2="685.80" stroke="#595959" stroke-width="1.0" />
<line x1="236.50" y1="683.73" x2="243.10" y2="683.73" stroke="#595959" stroke-width="1.0" />
<line x1="236.50" y1="686.00" x2="243.10" y2="686.00" stroke="#595959" stroke-width="1.0" />
<rect x="253.00" y="657.61" width="13.20" height="110.99" fill="#1F6FC9" />
<line x1="259.60" y1="653.46" x2="259.60" y2="657.61" stroke="#595959" stroke-width="1.0" />
<line x1="256.30" y1="653.46" x2="262.90" y2="653.46" stroke="#595959" stroke-width="1.0" />
<line x1="256.30" y1="657.81" x2="262.90" y2="657.81" stroke="#595959" stroke-width="1.0" />
<text transform="translate(50.60,706.30) rotate(-90)" font-size="13.6" fill="#151515" stroke="#151515" stroke-width="0.25" text-anchor="middle">Relative expression</text>
<text x="102.40" y="644.20" font-size="13.7" fill="#151515" stroke="#151515" stroke-width="0.25" text-anchor="start" font-style="italic" >Spliced XBP1</text>
<text x="119.10" y="703.70" font-size="13.4" fill="#151515" stroke="#151515" stroke-width="0.25"><tspan font-style="italic">p</tspan>&lt;0.001</text>
<text x="177.10" y="662.50" font-size="13.4" fill="#151515" stroke="#151515" stroke-width="0.25"><tspan font-style="italic">p</tspan>&lt;0.001</text>
<path d="M138.50,725.20 V712.00 Q138.50,710.40 140.10,710.40 H157.30 Q158.90,710.40 158.90,712.00 V715.60" fill="none" stroke="#1F6FC9" stroke-width="1.6"/>
<path d="M238.30,676.20 V644.10 Q238.30,642.50 239.90,642.50 H257.30 Q258.90,642.50 258.90,644.10 V648.20" fill="none" stroke="#1F6FC9" stroke-width="1.6"/>
<text x="37.40" y="789.00" font-size="13.7" fill="#151515" stroke="#151515" stroke-width="0.25" text-anchor="start" >HAd5V</text>
<text x="57.40" y="812.10" font-size="13.7" fill="#151515" stroke="#151515" stroke-width="0.25" text-anchor="start" >TG</text>
<text x="105.60" y="789.30" font-size="16" fill="#222" stroke="#222" stroke-width="0.4" font-family="Liberation Serif" text-anchor="middle">−</text>
<text x="125.40" y="789.30" font-size="16" fill="#222" stroke="#222" stroke-width="0.15" font-family="Liberation Serif" text-anchor="middle">+</text>
<text x="145.40" y="789.30" font-size="16" fill="#222" stroke="#222" stroke-width="0.4" font-family="Liberation Serif" text-anchor="middle">−</text>
<text x="165.20" y="789.30" font-size="16" fill="#222" stroke="#222" stroke-width="0.15" font-family="Liberation Serif" text-anchor="middle">+</text>
<text x="205.40" y="789.30" font-size="16" fill="#222" stroke="#222" stroke-width="0.4" font-family="Liberation Serif" text-anchor="middle">−</text>
<text x="225.20" y="789.30" font-size="16" fill="#222" stroke="#222" stroke-width="0.15" font-family="Liberation Serif" text-anchor="middle">+</text>
<text x="245.10" y="789.30" font-size="16" fill="#222" stroke="#222" stroke-width="0.4" font-family="Liberation Serif" text-anchor="middle">−</text>
<text x="265.20" y="789.30" font-size="16" fill="#222" stroke="#222" stroke-width="0.15" font-family="Liberation Serif" text-anchor="middle">+</text>
<text x="105.60" y="811.70" font-size="16" fill="#222" stroke="#222" stroke-width="0.4" font-family="Liberation Serif" text-anchor="middle">−</text>
<text x="125.40" y="811.70" font-size="16" fill="#222" stroke="#222" stroke-width="0.4" font-family="Liberation Serif" text-anchor="middle">−</text>
<text x="145.40" y="811.70" font-size="16" fill="#222" stroke="#222" stroke-width="0.15" font-family="Liberation Serif" text-anchor="middle">+</text>
<text x="165.20" y="811.70" font-size="16" fill="#222" stroke="#222" stroke-width="0.15" font-family="Liberation Serif" text-anchor="middle">+</text>
<text x="205.40" y="811.70" font-size="16" fill="#222" stroke="#222" stroke-width="0.4" font-family="Liberation Serif" text-anchor="middle">−</text>
<text x="225.20" y="811.70" font-size="16" fill="#222" stroke="#222" stroke-width="0.4" font-family="Liberation Serif" text-anchor="middle">−</text>
<text x="245.10" y="811.70" font-size="16" fill="#222" stroke="#222" stroke-width="0.15" font-family="Liberation Serif" text-anchor="middle">+</text>
<text x="265.20" y="811.70" font-size="16" fill="#222" stroke="#222" stroke-width="0.15" font-family="Liberation Serif" text-anchor="middle">+</text>
<line x1="100.00" y1="821.10" x2="179.00" y2="821.10" stroke="#111" stroke-width="1.6" />
<line x1="199.00" y1="821.10" x2="277.40" y2="821.10" stroke="#111" stroke-width="1.6" />
<text x="100.40" y="841.10" font-size="13.7" fill="#151515" stroke="#151515" stroke-width="0.25" text-anchor="start" >hTERT-RPE1</text>
<text x="218.40" y="841.10" font-size="13.7" fill="#151515" stroke="#151515" stroke-width="0.25" text-anchor="start" >A549</text>
<line x1="360.00" y1="652.20" x2="360.00" y2="768.80" stroke="#2F82DA" stroke-width="1.4" />
<line x1="355.40" y1="768.30" x2="363.10" y2="768.30" stroke="#2F82DA" stroke-width="1.3" />
<text x="348.20" y="772.65" font-size="13" fill="#595959" stroke="#595959" stroke-width="0.25" text-anchor="end" >0</text>
<line x1="360.00" y1="762.52" x2="363.10" y2="762.52" stroke="#2F82DA" stroke-width="1.15" />
<line x1="360.00" y1="756.74" x2="363.10" y2="756.74" stroke="#2F82DA" stroke-width="1.15" />
<line x1="360.00" y1="750.96" x2="363.10" y2="750.96" stroke="#2F82DA" stroke-width="1.15" />
<line x1="360.00" y1="745.18" x2="363.10" y2="745.18" stroke="#2F82DA" stroke-width="1.15" />
<line x1="355.40" y1="739.40" x2="363.10" y2="739.40" stroke="#2F82DA" stroke-width="1.3" />
<text x="348.20" y="743.75" font-size="13" fill="#595959" stroke="#595959" stroke-width="0.25" text-anchor="end" >1</text>
<line x1="360.00" y1="733.62" x2="363.10" y2="733.62" stroke="#2F82DA" stroke-width="1.15" />
<line x1="360.00" y1="727.84" x2="363.10" y2="727.84" stroke="#2F82DA" stroke-width="1.15" />
<line x1="360.00" y1="722.06" x2="363.10" y2="722.06" stroke="#2F82DA" stroke-width="1.15" />
<line x1="360.00" y1="716.28" x2="363.10" y2="716.28" stroke="#2F82DA" stroke-width="1.15" />
<line x1="355.40" y1="710.50" x2="363.10" y2="710.50" stroke="#2F82DA" stroke-width="1.3" />
<text x="348.20" y="714.85" font-size="13" fill="#595959" stroke="#595959" stroke-width="0.25" text-anchor="end" >2</text>
<line x1="360.00" y1="704.72" x2="363.10" y2="704.72" stroke="#2F82DA" stroke-width="1.15" />
<line x1="360.00" y1="698.94" x2="363.10" y2="698.94" stroke="#2F82DA" stroke-width="1.15" />
<line x1="360.00" y1="693.16" x2="363.10" y2="693.16" stroke="#2F82DA" stroke-width="1.15" />
<line x1="360.00" y1="687.38" x2="363.10" y2="687.38" stroke="#2F82DA" stroke-width="1.15" />
<line x1="355.40" y1="681.60" x2="363.10" y2="681.60" stroke="#2F82DA" stroke-width="1.3" />
<text x="348.20" y="685.95" font-size="13" fill="#595959" stroke="#595959" stroke-width="0.25" text-anchor="end" >3</text>
<line x1="360.00" y1="675.82" x2="363.10" y2="675.82" stroke="#2F82DA" stroke-width="1.15" />
<line x1="360.00" y1="670.04" x2="363.10" y2="670.04" stroke="#2F82DA" stroke-width="1.15" />
<line x1="360.00" y1="664.26" x2="363.10" y2="664.26" stroke="#2F82DA" stroke-width="1.15" />
<line x1="360.00" y1="658.48" x2="363.10" y2="658.48" stroke="#2F82DA" stroke-width="1.15" />
<line x1="355.40" y1="652.70" x2="363.10" y2="652.70" stroke="#2F82DA" stroke-width="1.3" />
<text x="348.20" y="657.05" font-size="13" fill="#595959" stroke="#595959" stroke-width="0.25" text-anchor="end" >4</text>
<rect x="363.80" y="739.40" width="17.00" height="29.20" fill="#1F6FC9" />
<line x1="372.30" y1="737.38" x2="372.30" y2="741.42" stroke="#595959" stroke-width="1.0" />
<line x1="369.00" y1="737.38" x2="375.60" y2="737.38" stroke="#595959" stroke-width="1.0" />
<line x1="369.00" y1="741.42" x2="375.60" y2="741.42" stroke="#5f6870" stroke-width="1.0" />
<rect x="389.70" y="731.31" width="17.00" height="37.29" fill="#1F6FC9" />
<line x1="398.20" y1="729.57" x2="398.20" y2="733.04" stroke="#595959" stroke-width="1.0" />
<line x1="394.90" y1="729.57" x2="401.50" y2="729.57" stroke="#595959" stroke-width="1.0" />
<line x1="394.90" y1="733.04" x2="401.50" y2="733.04" stroke="#5f6870" stroke-width="1.0" />
<rect x="440.80" y="672.64" width="17.00" height="95.96" fill="#1F6FC9" />
<line x1="449.30" y1="660.50" x2="449.30" y2="684.78" stroke="#595959" stroke-width="1.0" />
<line x1="446.00" y1="660.50" x2="452.60" y2="660.50" stroke="#595959" stroke-width="1.0" />
<line x1="446.00" y1="684.78" x2="452.60" y2="684.78" stroke="#5f6870" stroke-width="1.0" />
<rect x="466.70" y="677.26" width="17.00" height="91.33" fill="#1F6FC9" />
<line x1="475.20" y1="674.38" x2="475.20" y2="680.15" stroke="#595959" stroke-width="1.0" />
<line x1="471.90" y1="674.38" x2="478.50" y2="674.38" stroke="#595959" stroke-width="1.0" />
<line x1="471.90" y1="680.15" x2="478.50" y2="680.15" stroke="#5f6870" stroke-width="1.0" />
<text x="350.60" y="642.50" font-size="13.7" fill="#151515" stroke="#151515" stroke-width="0.25" text-anchor="start" font-style="italic" >Spliced XBP1</text>
<text x="372.50" y="706.40" font-size="13.4" fill="#151515" stroke="#151515" stroke-width="0.25"><tspan font-style="italic">p</tspan>&lt;0.001</text>
<text x="442.90" y="645.20" font-size="13.4" fill="#151515" stroke="#151515" stroke-width="0.25"><tspan font-style="italic">p</tspan>=0.372</text>
<path d="M371.00,731.60 V719.30 Q371.00,717.70 372.60,717.70 H394.00 Q395.60,717.70 395.60,719.30 V723.20" fill="none" stroke="#1F6FC9" stroke-width="1.6"/>
<path d="M450.20,655.40 V652.20 Q450.20,650.60 451.80,650.60 H474.00 Q475.60,650.60 475.60,652.20 V655.40" fill="none" stroke="#1F6FC9" stroke-width="1.6"/>
<text x="305.80" y="785.90" font-size="13.7" fill="#151515" stroke="#151515" stroke-width="0.25" text-anchor="start" >HAd5V</text>
<text x="373.40" y="784.30" font-size="14" fill="#222" stroke="#222" stroke-width="0.4" font-family="Liberation Serif" text-anchor="middle">−</text>
<text x="399.80" y="784.30" font-size="14" fill="#222" stroke="#222" stroke-width="0.15" font-family="Liberation Serif" text-anchor="middle">+</text>
<text x="449.40" y="784.30" font-size="14" fill="#222" stroke="#222" stroke-width="0.4" font-family="Liberation Serif" text-anchor="middle">−</text>
<text x="474.30" y="784.30" font-size="14" fill="#222" stroke="#222" stroke-width="0.15" font-family="Liberation Serif" text-anchor="middle">+</text>
<line x1="360.20" y1="791.10" x2="409.00" y2="791.10" stroke="#111" stroke-width="1.6" />
<line x1="432.90" y1="791.10" x2="482.00" y2="791.10" stroke="#111" stroke-width="1.6" />
<text x="341.00" y="809.90" font-size="13.7" fill="#151515" stroke="#151515" stroke-width="0.25" text-anchor="start" >hTERT-RPE1</text>
<text x="448.20" y="809.90" font-size="13.7" fill="#151515" stroke="#151515" stroke-width="0.25" text-anchor="start" >A549</text>
</svg>
</body></html>
